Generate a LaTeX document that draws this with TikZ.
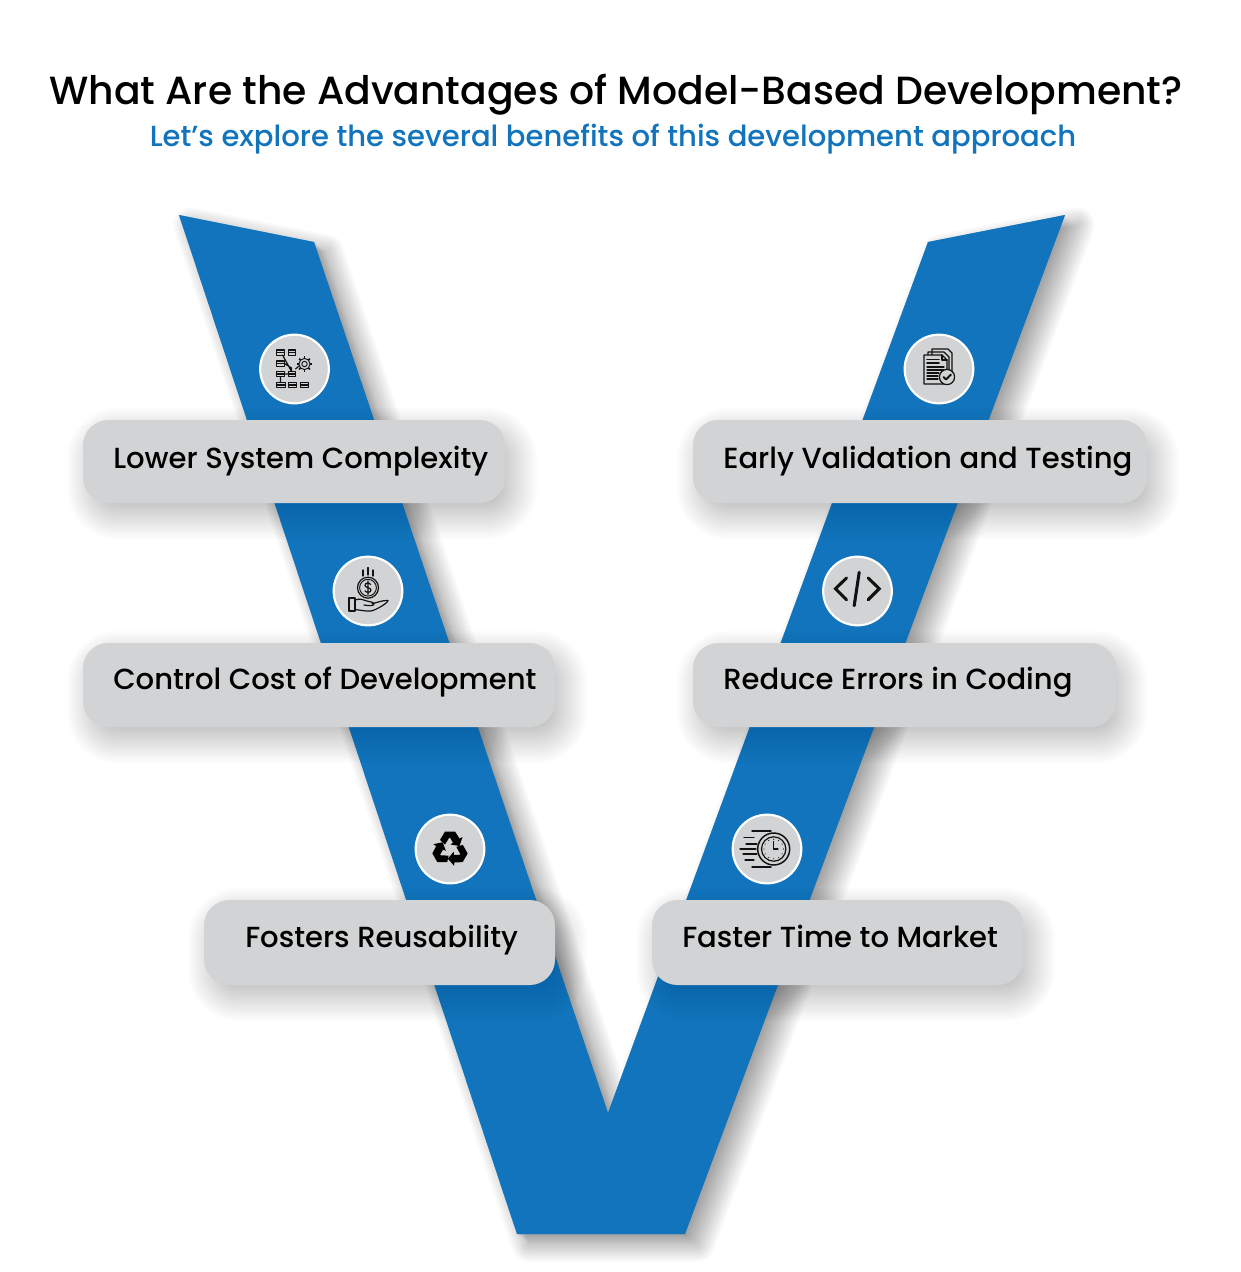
\documentclass[tikz,border=0pt]{standalone}
\usepackage{fontspec}
\setmainfont{Poppins}
\newfontfamily\medfont{Poppins Medium}
\definecolor{vblue}{HTML}{1174BC}
\definecolor{pillgray}{HTML}{D1D3D4}
\definecolor{inkblack}{HTML}{111111}
\tikzset{
  pill/.style={anchor=north west,inner sep=0pt,outer sep=0pt,fill=pillgray,rounded corners=19pt},
  pilltext/.style={anchor=base west,inner sep=0pt,font=\medfont\fontsize{21.8}{28}\selectfont,text=black},
  disc/.style={circle,fill=pillgray,draw=white,line width=1.6pt,minimum size=51.5pt,inner sep=0pt},
  ink/.style={draw=inkblack,line width=0.9pt,line join=round,line cap=round},
  inkthick/.style={draw=inkblack,line width=2.3pt,line join=miter,line cap=round},
}
\newcommand{\softbox}[4]{%
  \foreach \e in {24,22,...,-18}{%
    \pgfmathsetmacro{\rc}{max(6,(27+\e)*0.75)}
    \fill[black,opacity=.0115,rounded corners=\rc pt] (#1+8-\e,#2+12-\e) rectangle (#3+8+\e,#4+12+\e);
  }}
\newcommand{\vshape}{(179,215) -- (314,242) -- (608,1113) -- (928,242) -- (1065,215) -- (685,1234) -- (517,1234) -- cycle}
\newcommand{\minibox}[3]{\draw[ink] (#1,#3-2.6) rectangle (#2,#3+2.6) (#1,#3) -- (#2,#3);}
\begin{document}
\begin{tikzpicture}[x=0.75pt,y=-0.75pt]
\useasboundingbox (0,0) rectangle (1241,1272);
\fill[white] (0,0) rectangle (1241,1272);
\node[anchor=base,inner sep=0pt,font=\medfont\fontsize{29.48}{36}\selectfont,text=black] (title) at (616,104) {What Are the Advantages of Model-Based Development?};
\node[anchor=base,inner sep=0pt,font=\medfont\fontsize{21.8}{28}\selectfont,text=vblue] (subtitle) at (613,146) {Let’s explore the several benefits of this development approach};
% V shadow: core layers, then widening blurred layers
\foreach \s in {1,2,...,12}{
  \fill[black,opacity=.014,shift={(\s,\s*0.85)}] \vshape;
}
\foreach \w in {3,7,...,35}{
  \pgfmathsetmacro{\lw}{\w*0.75}
  \begin{scope}[transparency group,opacity=.022,shift={(12,10)}]
    \filldraw[black,line width=\lw pt,line join=round] \vshape;
  \end{scope}
}
\fill[vblue] \vshape;
% pill shadows
\softbox{83}{420}{505}{503}
\softbox{83}{643}{555}{727}
\softbox{204}{900}{555}{985}
\softbox{693}{420}{1147}{503}
\softbox{693}{643}{1115}{727}
\softbox{652}{900}{1023}{985}
% soften the pill shadows where they fall on the blue band
\fill[vblue,opacity=.6] \vshape;
% pills
\node[pill,minimum width=316.5pt,minimum height=62.25pt] (p1) at (83,420) {};
\node[pill,minimum width=354pt,minimum height=63pt] (p2) at (83,643) {};
\node[pill,minimum width=263.25pt,minimum height=63.75pt] (p3) at (204,900) {};
\node[pill,minimum width=340.5pt,minimum height=62.25pt] (p4) at (693,420) {};
\node[pill,minimum width=317.25pt,minimum height=63pt] (p5) at (693,643) {};
\node[pill,minimum width=278.25pt,minimum height=63.75pt] (p6) at (652,900) {};
\node[pilltext] (t1) at (113,468) {Lower System Complexity};
\node[pilltext] (t2) at (113,689) {Control Cost of Development};
\node[pilltext] (t3) at (245,947) {Fosters Reusability};
\node[pilltext] (t4) at (723,468) {Early Validation and Testing};
\node[pilltext] (t5) at (723,689) {Reduce Errors in Coding};
\node[pilltext] (t6) at (682,947) {Faster Time to Market};
% discs
\node[disc] (c1) at (294.5,369) {};
\node[disc] (c2) at (368,591) {};
\node[disc] (c3) at (450,849) {};
\node[disc] (c4) at (939,369) {};
\node[disc] (c5) at (857.5,591) {};
\node[disc] (c6) at (767,849) {};
% icon 1
\begin{scope}[shift={(c1.center)}]
  \minibox{-18}{-10}{-16.5}
  \minibox{-6}{1}{-16.5}
  \minibox{-18}{-10}{-5.5}
  \minibox{-18}{-10}{5}
  \minibox{-6}{1}{5}
  \minibox{-18}{-9}{16}
  \minibox{-6}{2}{16}
  \minibox{6}{14}{16}
  \draw[ink] (-12,-14) -- (-3,2.4) (-10,-5.5) -- (-3,-1) -- (-3,2.4) (1,0) -- (4.5,-3) (-14,7.6) -- (-14,13.4) (-10,5) -- (-6,5);
  \foreach \a in {0,45,...,315}{
    \draw[ink,line width=1.3pt,line cap=butt] ([shift={(10,-5)}]\a:5.6) -- ([shift={(10,-5)}]\a:7.6);
  }
  \draw[ink,line width=.7pt] (10,-5) circle (5.6);
  \draw[ink,line width=.7pt] (10,-5) circle (2.7);
\end{scope}
% icon 2
\begin{scope}[shift={(c2.center)}]
  \draw[ink] (0,-3.3) circle (10.5);
  \draw[ink,line width=.7pt] (0,-3.3) circle (8.4);
  \draw[ink] (2.6,-6.6) .. controls (1.6,-8.6) and (-3,-8.4) .. (-3,-5.6) .. controls (-3,-3) and (3,-3.6) .. (3,-.9) .. controls (3,1.8) and (-1.8,2) .. (-3,-.2) (0,-10) -- (0,3.4);
  \draw[ink] (-5,-21) -- (-5,-15) (0,-23.5) -- (0,-16) (5,-21) -- (5,-15);
  \draw[ink] (-19,7) -- (-13,7) -- (-13,20) -- (-19,20) -- cycle;
  \draw[ink] (-13,9) .. controls (-8,7) and (-5,9) .. (-1,10) .. controls (2,11) and (6,11) .. (6,13) .. controls (6,15) and (1,15) .. (-4,14)
    (4,12.5) .. controls (9,12) and (14,9) .. (20,9.5) .. controls (20,12) and (8,19) .. (3,20) .. controls (-2,20.5) and (-8,19) .. (-13,18.5);
\end{scope}
% icon 3
\begin{scope}[shift={(c3.center)}]
  \foreach \r in {0,120,240}{
    \fill[black,rotate=\r,shift={(0,-1.5)}] (-10,-7.5) -- (-5,-16) -- (5,-16) -- (9.5,-9) -- (12.5,-10.5) -- (9.5,-1.5) -- (0.5,-3) -- (3,-4.8) -- (0,-10) -- (-1,-9.5) -- (-5,-3) -- cycle;
  }
\end{scope}
% icon 4
\begin{scope}[shift={(c4.center)}]
  \draw[ink] (-7,-14) -- (-7,-20) -- (9,-20) -- (13,-16) -- (13,6);
  \draw[ink] (-11,-14) -- (-11,-17) -- (5,-17) -- (10,-12) -- (10,3);
  \draw[ink,fill=pillgray] (-15,-14) -- (3,-14) -- (8,-9) -- (8,15) -- (-15,15) -- cycle;
  \draw[ink] (3,-14) -- (3,-9) -- (8,-9);
  \draw[ink,line width=1.3pt] (-12,-9.5) -- (0,-9.5) (-12,-6) -- (0,-6);
  \draw[ink] (-12,-2) -- (5,-2) (-12,1) -- (5,1) (-12,4) -- (0,4) (-12,7) -- (-1,7) (-12,10) -- (-1,10);
  \draw[ink,fill=pillgray] (8,8) circle (7.6);
  \draw[ink,line width=1.4pt] (4.5,8) -- (7,10.5) -- (12,5.5);
\end{scope}
% icon 5
\begin{scope}[shift={(c5.center)}]
  \draw[inkthick] (-11,-13) -- (-22,-2.3) -- (-11,8.7);
  \draw[inkthick] (10.7,-13) -- (21.7,-2.3) -- (10.7,8.7);
  \draw[inkthick] (1.7,-18.7) -- (-3.3,14.7);
\end{scope}
% icon 6
\begin{scope}[shift={(c6.center)}]
  \draw[ink,line width=1.1pt] (6.7,0) circle (16);
  \draw[ink] (6.7,0) circle (12.2);
  \draw[ink] (6.7,-7.5) -- (6.7,0) -- (11,0);
  \foreach \a in {0,30,...,330}{
    \fill[inkblack] ([shift={(6.7,0)}]\a:9.8) circle (0.6);
  }
  \draw[ink,line width=1.1pt] (-15,-18) -- (4,-18) (-15,18) -- (4,18);
  \draw[ink] (-23,-11.5) -- (-13,-11.5) (-21,-5) -- (-10,-5) (-27,0) -- (-11,0) (-24,5) -- (-10,5) (-22,11) -- (-13,11);
\end{scope}
\end{tikzpicture}
\end{document}
